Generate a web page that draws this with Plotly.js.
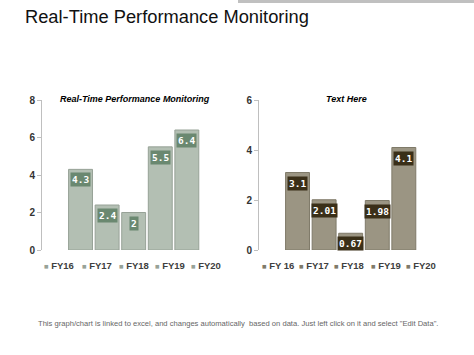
<!DOCTYPE html>
<html>
<head>
<meta charset="utf-8">
<script src="https://cdn.plot.ly/plotly-3.0.1.min.js"></script>
<style>html,body{margin:0;padding:0;background:#fff;}#chart{width:474px;height:355px;}</style>
</head>
<body>
<div id="chart"></div>
<script>
// ---- data ----
var leftCategories = ['FY16', 'FY17', 'FY18', 'FY19', 'FY20'];
var leftValues = [4.3, 2.4, 2, 5.5, 6.4];
var leftLabels = ['4.3', '2.4', '2', '5.5', '6.4'];
var rightCategories = ['FY 16', 'FY17', 'FY18', 'FY19', 'FY20'];
var rightValues = [3.1, 2.01, 0.67, 1.98, 4.1];
var rightLabels = ['3.1', '2.01', '0.67', '1.98', '4.1'];
var leftTicks = [0, 2, 4, 6, 8];
var rightTicks = [0, 2, 4, 6];
var mainTitle = 'Real-Time Performance Monitoring';
var leftTitle = 'Real-Time Performance Monitoring';
var rightTitle = 'Text Here';
var footer = 'This graph/chart is linked to excel, and changes automatically  based on data. Just left click on it and select "Edit Data".';

// ---- styles ----
var W = 474, H = 355;
function px(x) { return x / W; }
function py(y) { return 1 - y / H; }
var FONT = 'Arial, "Liberation Sans", sans-serif';
var leftFill = '#b3bfb3', leftLine = '#97a297', leftBox = '#6a8870';
var rightFill = '#9b9583', rightLine = '#7f7a69', rightBox = '#3a2f18';
var legendX1 = [42, 80, 117, 153, 189];
var legendX2 = [260, 297, 332, 369, 404];

var traces = [];
var annotations = [];

function addChart(cats, vals, labels, xa, ya, fill, line, box, legendX) {
  for (var i = 0; i < cats.length; i++) {
    traces.push({
      type: 'bar', x: [i], y: [vals[i]], width: 0.9, name: cats[i],
      xaxis: xa, yaxis: ya, showlegend: false, hoverinfo: 'skip',
      marker: {color: fill, line: {color: line, width: 1}}
    });
    annotations.push({
      xref: xa, yref: ya, x: i, y: vals[i], yanchor: 'top', xanchor: 'center',
      yshift: -3, showarrow: false, text: '<b>' + labels[i] + '</b>',
      bgcolor: box, borderpad: 1,
      font: {family: '"DejaVu Sans Mono", monospace', size: 9.5, color: '#ffffff'}
    });
    annotations.push({
      xref: 'paper', yref: 'paper', x: px(legendX[i]), y: py(265),
      xanchor: 'left', yanchor: 'middle', showarrow: false,
      text: '<span style="font-size:7.5px;color:' + line + '">■</span> <b>' + cats[i] + '</b>',
      font: {family: FONT, size: 9.5, color: '#404040'}
    });
  }
}
addChart(leftCategories, leftValues, leftLabels, 'x', 'y', leftFill, leftLine, leftBox, legendX1);
addChart(rightCategories, rightValues, rightLabels, 'x2', 'y2', rightFill, rightLine, rightBox, legendX2);

annotations.push({
  xref: 'paper', yref: 'paper', x: px(135), y: py(99), xanchor: 'center', yanchor: 'middle',
  showarrow: false, text: '<b><i>' + leftTitle + '</i></b>',
  font: {family: FONT, size: 9, color: '#000000'}
});
annotations.push({
  xref: 'paper', yref: 'paper', x: px(346), y: py(99), xanchor: 'center', yanchor: 'middle',
  showarrow: false, text: '<b><i>' + rightTitle + '</i></b>',
  font: {family: FONT, size: 9, color: '#000000'}
});
annotations.push({
  xref: 'paper', yref: 'paper', x: px(237.5), y: py(323), xanchor: 'center', yanchor: 'middle',
  showarrow: false, text: footer,
  font: {family: FONT, size: 7.6, color: '#666666'}
});

var xBase = {range: [-1.45, 5.06], showticklabels: false, showline: false, zeroline: false,
  showgrid: false, ticks: '', fixedrange: true};
var yBase = {showline: true, linecolor: '#bfbfbf', linewidth: 1, ticks: 'outside', ticklen: 4,
  tickcolor: '#bfbfbf', showgrid: false, zeroline: false, dtick: 2,
  tickfont: {family: FONT, size: 10, color: '#333333', weight: 'bold'}, fixedrange: true};

var layout = {
  width: W, height: H,
  margin: {l: 0, r: 0, t: 0, b: 0},
  paper_bgcolor: '#ffffff', plot_bgcolor: 'rgba(0,0,0,0)',
  showlegend: false, barmode: 'overlay',
  title: {text: mainTitle, x: px(25), xanchor: 'left', xref: 'paper',
    y: py(17), yanchor: 'middle', yref: 'container',
    font: {family: FONT, size: 18.3, color: '#111111'}},
  xaxis: Object.assign({}, xBase, {domain: [px(42), px(215)], anchor: 'y'}),
  yaxis: Object.assign({}, yBase, {domain: [py(250), py(100)], range: [0, 8], anchor: 'x',
    tickvals: leftTicks}),
  xaxis2: Object.assign({}, xBase, {domain: [px(259), px(432)], anchor: 'y2'}),
  yaxis2: Object.assign({}, yBase, {domain: [py(250), py(100)], range: [0, 6], anchor: 'x2',
    tickvals: rightTicks}),
  shapes: [{type: 'rect', xref: 'paper', yref: 'paper', x0: px(238), x1: 1, y0: py(3), y1: 1,
    fillcolor: '#c0c0c0', line: {width: 0}}],
  annotations: annotations
};

Plotly.newPlot('chart', traces, layout, {staticPlot: true, displayModeBar: false});
</script>
</body>
</html>
